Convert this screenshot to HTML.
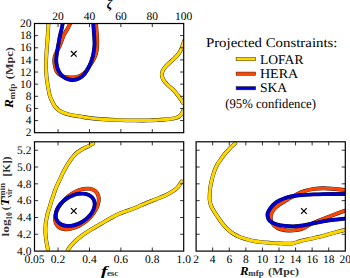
<!DOCTYPE html>
<html><head><meta charset="utf-8"><style>
html,body{margin:0;padding:0;background:#fff;}
body{width:350px;height:278px;overflow:hidden;}
svg{display:block;font-family:"Liberation Serif",serif;}
.gp text{text-rendering:geometricPrecision;}
</style></head><body>
<svg width="350" height="278" viewBox="0 0 350 278">
<rect width="350" height="278" fill="#fff"/>
<defs><clipPath id="cTL"><rect x="34.50" y="23.50" width="149.20" height="109.20"/></clipPath><clipPath id="cBL"><rect x="34.50" y="141.80" width="149.20" height="109.30"/></clipPath><clipPath id="cBR"><rect x="196.10" y="141.80" width="149.20" height="109.30"/></clipPath></defs>
<g clip-path="url(#cTL)"><path d="M48.60,22.00 C48.55,22.67 48.47,23.33 48.30,26.00 C48.13,28.67 47.87,34.00 47.60,38.00 C47.33,42.00 46.95,46.33 46.70,50.00 C46.45,53.67 46.20,56.67 46.10,60.00 C46.00,63.33 45.97,66.67 46.10,70.00 C46.23,73.33 46.52,76.83 46.90,80.00 C47.28,83.17 47.90,86.33 48.40,89.00 C48.90,91.67 49.27,93.92 49.90,96.00 C50.53,98.08 51.35,99.75 52.20,101.50 C53.05,103.25 53.87,105.03 55.00,106.50 C56.13,107.97 57.33,109.17 59.00,110.30 C60.67,111.43 62.77,112.47 65.00,113.30 C67.23,114.13 69.90,114.78 72.40,115.30 C74.90,115.82 77.18,115.95 80.00,116.40 C82.82,116.85 85.37,117.52 89.30,118.00 C93.23,118.48 98.48,118.95 103.60,119.30 C108.72,119.65 114.88,119.92 120.00,120.10 C125.12,120.28 129.53,120.35 134.30,120.40 C139.07,120.45 144.65,120.47 148.60,120.40 C152.55,120.33 155.27,120.15 158.00,120.00 C160.73,119.85 162.83,119.68 165.00,119.50 C167.17,119.32 169.13,119.18 171.00,118.90 C172.87,118.62 174.70,118.33 176.20,117.80 C177.70,117.27 179.00,116.53 180.00,115.70 C181.00,114.87 181.67,113.65 182.20,112.80 C182.73,111.95 183.03,110.97 183.20,110.60" fill="none" stroke="#1a1a1a" stroke-width="3.90" stroke-linecap="round" stroke-linejoin="round"/><path d="M48.60,22.00 C48.55,22.67 48.47,23.33 48.30,26.00 C48.13,28.67 47.87,34.00 47.60,38.00 C47.33,42.00 46.95,46.33 46.70,50.00 C46.45,53.67 46.20,56.67 46.10,60.00 C46.00,63.33 45.97,66.67 46.10,70.00 C46.23,73.33 46.52,76.83 46.90,80.00 C47.28,83.17 47.90,86.33 48.40,89.00 C48.90,91.67 49.27,93.92 49.90,96.00 C50.53,98.08 51.35,99.75 52.20,101.50 C53.05,103.25 53.87,105.03 55.00,106.50 C56.13,107.97 57.33,109.17 59.00,110.30 C60.67,111.43 62.77,112.47 65.00,113.30 C67.23,114.13 69.90,114.78 72.40,115.30 C74.90,115.82 77.18,115.95 80.00,116.40 C82.82,116.85 85.37,117.52 89.30,118.00 C93.23,118.48 98.48,118.95 103.60,119.30 C108.72,119.65 114.88,119.92 120.00,120.10 C125.12,120.28 129.53,120.35 134.30,120.40 C139.07,120.45 144.65,120.47 148.60,120.40 C152.55,120.33 155.27,120.15 158.00,120.00 C160.73,119.85 162.83,119.68 165.00,119.50 C167.17,119.32 169.13,119.18 171.00,118.90 C172.87,118.62 174.70,118.33 176.20,117.80 C177.70,117.27 179.00,116.53 180.00,115.70 C181.00,114.87 181.67,113.65 182.20,112.80 C182.73,111.95 183.03,110.97 183.20,110.60" fill="none" stroke="#ffd700" stroke-width="3.20" stroke-linecap="round" stroke-linejoin="round"/><path d="M184.30,40.60 C183.97,41.58 183.08,44.53 182.30,46.50 C181.52,48.47 180.78,50.53 179.60,52.40 C178.42,54.27 176.83,56.02 175.20,57.70 C173.57,59.38 171.47,60.95 169.80,62.50 C168.13,64.05 166.40,65.58 165.20,67.00 C164.00,68.42 163.15,69.58 162.60,71.00 C162.05,72.42 161.70,73.92 161.90,75.50 C162.10,77.08 162.75,78.85 163.80,80.50 C164.85,82.15 166.52,83.77 168.20,85.40 C169.88,87.03 172.33,88.70 173.90,90.30 C175.47,91.90 176.43,93.50 177.60,95.00 C178.77,96.50 180.03,98.00 180.90,99.30 C181.77,100.60 182.48,102.22 182.80,102.80" fill="none" stroke="#1a1a1a" stroke-width="3.90" stroke-linecap="round" stroke-linejoin="round"/><path d="M184.30,40.60 C183.97,41.58 183.08,44.53 182.30,46.50 C181.52,48.47 180.78,50.53 179.60,52.40 C178.42,54.27 176.83,56.02 175.20,57.70 C173.57,59.38 171.47,60.95 169.80,62.50 C168.13,64.05 166.40,65.58 165.20,67.00 C164.00,68.42 163.15,69.58 162.60,71.00 C162.05,72.42 161.70,73.92 161.90,75.50 C162.10,77.08 162.75,78.85 163.80,80.50 C164.85,82.15 166.52,83.77 168.20,85.40 C169.88,87.03 172.33,88.70 173.90,90.30 C175.47,91.90 176.43,93.50 177.60,95.00 C178.77,96.50 180.03,98.00 180.90,99.30 C181.77,100.60 182.48,102.22 182.80,102.80" fill="none" stroke="#ffd700" stroke-width="3.20" stroke-linecap="round" stroke-linejoin="round"/><path d="M71.50,20.00 C71.25,20.67 70.78,22.33 70.00,24.00 C69.22,25.67 67.83,28.17 66.80,30.00 C65.77,31.83 64.63,33.27 63.80,35.00 C62.97,36.73 62.50,38.57 61.80,40.40 C61.10,42.23 60.42,44.15 59.60,46.00 C58.78,47.85 57.70,49.75 56.90,51.50 C56.10,53.25 55.23,54.92 54.80,56.50 C54.37,58.08 54.28,59.42 54.30,61.00 C54.32,62.58 54.52,64.30 54.90,66.00 C55.28,67.70 55.75,69.72 56.60,71.20 C57.45,72.68 58.63,73.95 60.00,74.90 C61.37,75.85 63.22,76.47 64.80,76.90 C66.38,77.33 67.82,77.43 69.50,77.50 C71.18,77.57 73.05,77.62 74.90,77.30 C76.75,76.98 78.78,76.57 80.60,75.60 C82.42,74.63 84.32,73.10 85.80,71.50 C87.28,69.90 88.37,67.72 89.50,66.00 C90.63,64.28 91.65,62.87 92.60,61.20 C93.55,59.53 94.53,57.73 95.20,56.00 C95.87,54.27 96.28,52.57 96.60,50.80 C96.92,49.03 97.00,47.20 97.10,45.40 C97.20,43.60 97.23,41.73 97.20,40.00 C97.17,38.27 97.05,37.00 96.90,35.00 C96.75,33.00 96.43,29.83 96.30,28.00 C96.17,26.17 96.13,25.33 96.10,24.00 C96.07,22.67 96.10,20.67 96.10,20.00" fill="none" stroke="#1a1a1a" stroke-width="3.90" stroke-linecap="round" stroke-linejoin="round"/><path d="M71.50,20.00 C71.25,20.67 70.78,22.33 70.00,24.00 C69.22,25.67 67.83,28.17 66.80,30.00 C65.77,31.83 64.63,33.27 63.80,35.00 C62.97,36.73 62.50,38.57 61.80,40.40 C61.10,42.23 60.42,44.15 59.60,46.00 C58.78,47.85 57.70,49.75 56.90,51.50 C56.10,53.25 55.23,54.92 54.80,56.50 C54.37,58.08 54.28,59.42 54.30,61.00 C54.32,62.58 54.52,64.30 54.90,66.00 C55.28,67.70 55.75,69.72 56.60,71.20 C57.45,72.68 58.63,73.95 60.00,74.90 C61.37,75.85 63.22,76.47 64.80,76.90 C66.38,77.33 67.82,77.43 69.50,77.50 C71.18,77.57 73.05,77.62 74.90,77.30 C76.75,76.98 78.78,76.57 80.60,75.60 C82.42,74.63 84.32,73.10 85.80,71.50 C87.28,69.90 88.37,67.72 89.50,66.00 C90.63,64.28 91.65,62.87 92.60,61.20 C93.55,59.53 94.53,57.73 95.20,56.00 C95.87,54.27 96.28,52.57 96.60,50.80 C96.92,49.03 97.00,47.20 97.10,45.40 C97.20,43.60 97.23,41.73 97.20,40.00 C97.17,38.27 97.05,37.00 96.90,35.00 C96.75,33.00 96.43,29.83 96.30,28.00 C96.17,26.17 96.13,25.33 96.10,24.00 C96.07,22.67 96.10,20.67 96.10,20.00" fill="none" stroke="#ff4500" stroke-width="3.20" stroke-linecap="round" stroke-linejoin="round"/><path d="M63.10,20.00 C63.02,20.67 62.88,22.33 62.60,24.00 C62.32,25.67 61.83,28.08 61.40,30.00 C60.97,31.92 60.43,33.50 60.00,35.50 C59.57,37.50 59.18,39.92 58.80,42.00 C58.42,44.08 58.03,46.00 57.70,48.00 C57.37,50.00 57.05,52.00 56.80,54.00 C56.55,56.00 56.18,58.00 56.20,60.00 C56.22,62.00 56.45,64.08 56.90,66.00 C57.35,67.92 58.00,69.83 58.90,71.50 C59.80,73.17 60.82,74.72 62.30,76.00 C63.78,77.28 65.90,78.53 67.80,79.20 C69.70,79.87 71.77,80.15 73.70,80.00 C75.63,79.85 77.58,79.30 79.40,78.30 C81.22,77.30 83.07,75.80 84.60,74.00 C86.13,72.20 87.50,69.58 88.60,67.50 C89.70,65.42 90.48,63.42 91.20,61.50 C91.92,59.58 92.45,57.83 92.90,56.00 C93.35,54.17 93.63,52.33 93.90,50.50 C94.17,48.67 94.43,47.08 94.50,45.00 C94.57,42.92 94.43,40.50 94.30,38.00 C94.17,35.50 93.87,32.33 93.70,30.00 C93.53,27.67 93.37,25.67 93.30,24.00 C93.23,22.33 93.30,20.67 93.30,20.00" fill="none" stroke="#1a1a1a" stroke-width="3.90" stroke-linecap="round" stroke-linejoin="round"/><path d="M63.10,20.00 C63.02,20.67 62.88,22.33 62.60,24.00 C62.32,25.67 61.83,28.08 61.40,30.00 C60.97,31.92 60.43,33.50 60.00,35.50 C59.57,37.50 59.18,39.92 58.80,42.00 C58.42,44.08 58.03,46.00 57.70,48.00 C57.37,50.00 57.05,52.00 56.80,54.00 C56.55,56.00 56.18,58.00 56.20,60.00 C56.22,62.00 56.45,64.08 56.90,66.00 C57.35,67.92 58.00,69.83 58.90,71.50 C59.80,73.17 60.82,74.72 62.30,76.00 C63.78,77.28 65.90,78.53 67.80,79.20 C69.70,79.87 71.77,80.15 73.70,80.00 C75.63,79.85 77.58,79.30 79.40,78.30 C81.22,77.30 83.07,75.80 84.60,74.00 C86.13,72.20 87.50,69.58 88.60,67.50 C89.70,65.42 90.48,63.42 91.20,61.50 C91.92,59.58 92.45,57.83 92.90,56.00 C93.35,54.17 93.63,52.33 93.90,50.50 C94.17,48.67 94.43,47.08 94.50,45.00 C94.57,42.92 94.43,40.50 94.30,38.00 C94.17,35.50 93.87,32.33 93.70,30.00 C93.53,27.67 93.37,25.67 93.30,24.00 C93.23,22.33 93.30,20.67 93.30,20.00" fill="none" stroke="#0000cd" stroke-width="3.20" stroke-linecap="round" stroke-linejoin="round"/><path d="M70.91,50.98 L76.61,56.68 M70.91,56.68 L76.61,50.98" stroke="#000" stroke-width="1.25" fill="none"/></g>
<g clip-path="url(#cBL)"><path d="M93.20,143.60 C92.47,143.98 90.50,145.03 88.80,145.90 C87.10,146.77 84.92,147.72 83.00,148.80 C81.08,149.88 78.97,151.08 77.30,152.40 C75.63,153.72 74.32,155.15 73.00,156.70 C71.68,158.25 70.60,159.90 69.40,161.70 C68.20,163.50 66.93,165.53 65.80,167.50 C64.67,169.47 63.58,171.50 62.60,173.50 C61.62,175.50 60.80,177.58 59.90,179.50 C59.00,181.42 58.02,183.17 57.20,185.00 C56.38,186.83 55.70,188.58 55.00,190.50 C54.30,192.42 53.62,194.67 53.00,196.50 C52.38,198.33 51.83,199.83 51.30,201.50 C50.77,203.17 50.43,204.42 49.80,206.50 C49.17,208.58 48.17,211.25 47.50,214.00 C46.83,216.75 46.15,220.00 45.80,223.00 C45.45,226.00 45.32,229.00 45.40,232.00 C45.48,235.00 45.90,238.17 46.30,241.00 C46.70,243.83 47.45,247.00 47.80,249.00 C48.15,251.00 48.30,252.33 48.40,253.00" fill="none" stroke="#1a1a1a" stroke-width="3.90" stroke-linecap="round" stroke-linejoin="round"/><path d="M93.20,143.60 C92.47,143.98 90.50,145.03 88.80,145.90 C87.10,146.77 84.92,147.72 83.00,148.80 C81.08,149.88 78.97,151.08 77.30,152.40 C75.63,153.72 74.32,155.15 73.00,156.70 C71.68,158.25 70.60,159.90 69.40,161.70 C68.20,163.50 66.93,165.53 65.80,167.50 C64.67,169.47 63.58,171.50 62.60,173.50 C61.62,175.50 60.80,177.58 59.90,179.50 C59.00,181.42 58.02,183.17 57.20,185.00 C56.38,186.83 55.70,188.58 55.00,190.50 C54.30,192.42 53.62,194.67 53.00,196.50 C52.38,198.33 51.83,199.83 51.30,201.50 C50.77,203.17 50.43,204.42 49.80,206.50 C49.17,208.58 48.17,211.25 47.50,214.00 C46.83,216.75 46.15,220.00 45.80,223.00 C45.45,226.00 45.32,229.00 45.40,232.00 C45.48,235.00 45.90,238.17 46.30,241.00 C46.70,243.83 47.45,247.00 47.80,249.00 C48.15,251.00 48.30,252.33 48.40,253.00" fill="none" stroke="#ffd700" stroke-width="3.20" stroke-linecap="round" stroke-linejoin="round"/><path d="M67.40,252.00 C67.53,251.55 67.15,250.87 68.20,249.30 C69.25,247.73 71.63,244.72 73.70,242.60 C75.77,240.48 77.73,238.75 80.60,236.60 C83.47,234.45 87.47,231.85 90.90,229.70 C94.33,227.55 97.77,225.70 101.20,223.70 C104.63,221.70 108.50,219.35 111.50,217.70 C114.50,216.05 116.95,214.82 119.20,213.80 C121.45,212.78 122.37,212.57 125.00,211.60 C127.63,210.63 131.67,209.33 135.00,208.00 C138.33,206.67 141.67,205.00 145.00,203.60 C148.33,202.20 151.67,200.93 155.00,199.60 C158.33,198.27 162.00,197.00 165.00,195.60 C168.00,194.20 170.83,192.63 173.00,191.20 C175.17,189.77 176.57,188.62 178.00,187.00 C179.43,185.38 181.00,182.42 181.60,181.50" fill="none" stroke="#1a1a1a" stroke-width="3.90" stroke-linecap="round" stroke-linejoin="round"/><path d="M67.40,252.00 C67.53,251.55 67.15,250.87 68.20,249.30 C69.25,247.73 71.63,244.72 73.70,242.60 C75.77,240.48 77.73,238.75 80.60,236.60 C83.47,234.45 87.47,231.85 90.90,229.70 C94.33,227.55 97.77,225.70 101.20,223.70 C104.63,221.70 108.50,219.35 111.50,217.70 C114.50,216.05 116.95,214.82 119.20,213.80 C121.45,212.78 122.37,212.57 125.00,211.60 C127.63,210.63 131.67,209.33 135.00,208.00 C138.33,206.67 141.67,205.00 145.00,203.60 C148.33,202.20 151.67,200.93 155.00,199.60 C158.33,198.27 162.00,197.00 165.00,195.60 C168.00,194.20 170.83,192.63 173.00,191.20 C175.17,189.77 176.57,188.62 178.00,187.00 C179.43,185.38 181.00,182.42 181.60,181.50" fill="none" stroke="#ffd700" stroke-width="3.20" stroke-linecap="round" stroke-linejoin="round"/><path d="M96.41,192.19 C97.27,193.19 97.92,194.41 98.32,195.74 C98.71,197.08 98.86,198.61 98.76,200.20 C98.66,201.78 98.30,203.52 97.72,205.25 C97.13,206.97 96.28,208.80 95.26,210.55 C94.23,212.30 92.95,214.09 91.55,215.74 C90.14,217.40 88.52,219.03 86.84,220.47 C85.16,221.92 83.31,223.28 81.46,224.42 C79.62,225.56 77.66,226.55 75.77,227.31 C73.89,228.06 71.95,228.63 70.16,228.95 C68.37,229.27 66.59,229.36 65.01,229.23 C63.43,229.09 61.94,228.71 60.68,228.12 C59.41,227.53 58.30,226.70 57.45,225.71 C56.59,224.71 55.94,223.49 55.54,222.16 C55.15,220.82 55.00,219.29 55.10,217.70 C55.20,216.12 55.56,214.38 56.14,212.65 C56.73,210.93 57.58,209.10 58.60,207.35 C59.63,205.60 60.91,203.81 62.31,202.16 C63.72,200.50 65.34,198.87 67.02,197.43 C68.70,195.98 70.55,194.62 72.40,193.48 C74.24,192.34 76.20,191.35 78.09,190.59 C79.97,189.84 81.91,189.27 83.70,188.95 C85.49,188.63 87.27,188.54 88.85,188.67 C90.43,188.81 91.92,189.19 93.18,189.78 C94.45,190.37 95.56,191.20 96.41,192.19Z" fill="none" stroke="#1a1a1a" stroke-width="3.90" stroke-linecap="round" stroke-linejoin="round"/><path d="M96.41,192.19 C97.27,193.19 97.92,194.41 98.32,195.74 C98.71,197.08 98.86,198.61 98.76,200.20 C98.66,201.78 98.30,203.52 97.72,205.25 C97.13,206.97 96.28,208.80 95.26,210.55 C94.23,212.30 92.95,214.09 91.55,215.74 C90.14,217.40 88.52,219.03 86.84,220.47 C85.16,221.92 83.31,223.28 81.46,224.42 C79.62,225.56 77.66,226.55 75.77,227.31 C73.89,228.06 71.95,228.63 70.16,228.95 C68.37,229.27 66.59,229.36 65.01,229.23 C63.43,229.09 61.94,228.71 60.68,228.12 C59.41,227.53 58.30,226.70 57.45,225.71 C56.59,224.71 55.94,223.49 55.54,222.16 C55.15,220.82 55.00,219.29 55.10,217.70 C55.20,216.12 55.56,214.38 56.14,212.65 C56.73,210.93 57.58,209.10 58.60,207.35 C59.63,205.60 60.91,203.81 62.31,202.16 C63.72,200.50 65.34,198.87 67.02,197.43 C68.70,195.98 70.55,194.62 72.40,193.48 C74.24,192.34 76.20,191.35 78.09,190.59 C79.97,189.84 81.91,189.27 83.70,188.95 C85.49,188.63 87.27,188.54 88.85,188.67 C90.43,188.81 91.92,189.19 93.18,189.78 C94.45,190.37 95.56,191.20 96.41,192.19Z" fill="none" stroke="#ff4500" stroke-width="3.20" stroke-linecap="round" stroke-linejoin="round"/><path d="M93.29,198.98 C93.91,200.02 94.33,201.22 94.52,202.46 C94.72,203.70 94.68,205.08 94.44,206.44 C94.19,207.80 93.70,209.25 93.03,210.64 C92.36,212.04 91.46,213.46 90.41,214.79 C89.36,216.11 88.10,217.42 86.75,218.59 C85.40,219.76 83.86,220.86 82.30,221.79 C80.73,222.72 79.03,223.54 77.36,224.17 C75.69,224.79 73.93,225.28 72.27,225.56 C70.60,225.85 68.92,225.96 67.38,225.88 C65.83,225.80 64.33,225.53 63.01,225.10 C61.69,224.66 60.48,224.03 59.48,223.27 C58.47,222.51 57.62,221.56 57.01,220.52 C56.39,219.48 55.97,218.28 55.78,217.04 C55.58,215.80 55.62,214.42 55.86,213.06 C56.11,211.70 56.60,210.25 57.27,208.86 C57.94,207.46 58.84,206.04 59.89,204.71 C60.94,203.39 62.20,202.08 63.55,200.91 C64.90,199.74 66.44,198.64 68.00,197.71 C69.57,196.78 71.27,195.96 72.94,195.33 C74.61,194.71 76.37,194.22 78.03,193.94 C79.70,193.65 81.38,193.54 82.92,193.62 C84.47,193.70 85.97,193.97 87.29,194.40 C88.61,194.84 89.82,195.47 90.82,196.23 C91.83,196.99 92.68,197.94 93.29,198.98Z" fill="none" stroke="#1a1a1a" stroke-width="3.90" stroke-linecap="round" stroke-linejoin="round"/><path d="M93.29,198.98 C93.91,200.02 94.33,201.22 94.52,202.46 C94.72,203.70 94.68,205.08 94.44,206.44 C94.19,207.80 93.70,209.25 93.03,210.64 C92.36,212.04 91.46,213.46 90.41,214.79 C89.36,216.11 88.10,217.42 86.75,218.59 C85.40,219.76 83.86,220.86 82.30,221.79 C80.73,222.72 79.03,223.54 77.36,224.17 C75.69,224.79 73.93,225.28 72.27,225.56 C70.60,225.85 68.92,225.96 67.38,225.88 C65.83,225.80 64.33,225.53 63.01,225.10 C61.69,224.66 60.48,224.03 59.48,223.27 C58.47,222.51 57.62,221.56 57.01,220.52 C56.39,219.48 55.97,218.28 55.78,217.04 C55.58,215.80 55.62,214.42 55.86,213.06 C56.11,211.70 56.60,210.25 57.27,208.86 C57.94,207.46 58.84,206.04 59.89,204.71 C60.94,203.39 62.20,202.08 63.55,200.91 C64.90,199.74 66.44,198.64 68.00,197.71 C69.57,196.78 71.27,195.96 72.94,195.33 C74.61,194.71 76.37,194.22 78.03,193.94 C79.70,193.65 81.38,193.54 82.92,193.62 C84.47,193.70 85.97,193.97 87.29,194.40 C88.61,194.84 89.82,195.47 90.82,196.23 C91.83,196.99 92.68,197.94 93.29,198.98Z" fill="none" stroke="#0000cd" stroke-width="3.20" stroke-linecap="round" stroke-linejoin="round"/><path d="M70.91,208.15 L76.61,213.85 M70.91,213.85 L76.61,208.15" stroke="#000" stroke-width="1.25" fill="none"/></g>
<g clip-path="url(#cBR)"><path d="M235.20,143.40 C234.35,144.17 231.47,146.65 230.10,148.00 C228.73,149.35 228.03,150.33 227.00,151.50 C225.97,152.67 225.02,153.58 223.90,155.00 C222.78,156.42 221.35,158.50 220.30,160.00 C219.25,161.50 218.42,162.58 217.60,164.00 C216.78,165.42 216.10,166.83 215.40,168.50 C214.70,170.17 214.05,171.88 213.40,174.00 C212.75,176.12 212.03,178.87 211.50,181.20 C210.97,183.53 210.50,185.70 210.20,188.00 C209.90,190.30 209.78,193.00 209.70,195.00 C209.62,197.00 209.52,198.33 209.70,200.00 C209.88,201.67 210.22,203.33 210.80,205.00 C211.38,206.67 212.25,208.33 213.20,210.00 C214.15,211.67 215.40,213.33 216.50,215.00 C217.60,216.67 218.62,218.33 219.80,220.00 C220.98,221.67 222.17,223.33 223.60,225.00 C225.03,226.67 226.70,228.50 228.40,230.00 C230.10,231.50 231.82,232.80 233.80,234.00 C235.78,235.20 238.13,236.32 240.30,237.20 C242.47,238.08 244.68,238.68 246.80,239.30 C248.92,239.92 250.63,240.43 253.00,240.90 C255.37,241.37 258.28,241.78 261.00,242.10 C263.72,242.42 266.48,242.62 269.30,242.80 C272.12,242.98 275.07,243.07 277.90,243.20 C280.73,243.33 283.78,243.58 286.30,243.60 C288.82,243.62 290.72,243.70 293.00,243.30 C295.28,242.90 297.17,241.93 300.00,241.20 C302.83,240.47 306.67,239.65 310.00,238.90 C313.33,238.15 316.67,237.53 320.00,236.70 C323.33,235.87 326.23,234.93 330.00,233.90 C333.77,232.87 339.60,231.30 342.60,230.50 C345.60,229.70 347.10,229.33 348.00,229.10" fill="none" stroke="#1a1a1a" stroke-width="3.90" stroke-linecap="round" stroke-linejoin="round"/><path d="M235.20,143.40 C234.35,144.17 231.47,146.65 230.10,148.00 C228.73,149.35 228.03,150.33 227.00,151.50 C225.97,152.67 225.02,153.58 223.90,155.00 C222.78,156.42 221.35,158.50 220.30,160.00 C219.25,161.50 218.42,162.58 217.60,164.00 C216.78,165.42 216.10,166.83 215.40,168.50 C214.70,170.17 214.05,171.88 213.40,174.00 C212.75,176.12 212.03,178.87 211.50,181.20 C210.97,183.53 210.50,185.70 210.20,188.00 C209.90,190.30 209.78,193.00 209.70,195.00 C209.62,197.00 209.52,198.33 209.70,200.00 C209.88,201.67 210.22,203.33 210.80,205.00 C211.38,206.67 212.25,208.33 213.20,210.00 C214.15,211.67 215.40,213.33 216.50,215.00 C217.60,216.67 218.62,218.33 219.80,220.00 C220.98,221.67 222.17,223.33 223.60,225.00 C225.03,226.67 226.70,228.50 228.40,230.00 C230.10,231.50 231.82,232.80 233.80,234.00 C235.78,235.20 238.13,236.32 240.30,237.20 C242.47,238.08 244.68,238.68 246.80,239.30 C248.92,239.92 250.63,240.43 253.00,240.90 C255.37,241.37 258.28,241.78 261.00,242.10 C263.72,242.42 266.48,242.62 269.30,242.80 C272.12,242.98 275.07,243.07 277.90,243.20 C280.73,243.33 283.78,243.58 286.30,243.60 C288.82,243.62 290.72,243.70 293.00,243.30 C295.28,242.90 297.17,241.93 300.00,241.20 C302.83,240.47 306.67,239.65 310.00,238.90 C313.33,238.15 316.67,237.53 320.00,236.70 C323.33,235.87 326.23,234.93 330.00,233.90 C333.77,232.87 339.60,231.30 342.60,230.50 C345.60,229.70 347.10,229.33 348.00,229.10" fill="none" stroke="#ffd700" stroke-width="3.20" stroke-linecap="round" stroke-linejoin="round"/><path d="M352.00,190.60 C350.77,190.50 347.93,190.32 344.60,190.00 C341.27,189.68 335.60,188.98 332.00,188.70 C328.40,188.42 326.00,188.27 323.00,188.30 C320.00,188.33 317.00,188.47 314.00,188.90 C311.00,189.33 308.00,189.93 305.00,190.90 C302.00,191.87 298.98,193.22 296.00,194.70 C293.02,196.18 289.92,198.15 287.10,199.80 C284.28,201.45 281.35,202.95 279.10,204.60 C276.85,206.25 274.98,207.87 273.60,209.70 C272.22,211.53 271.10,213.45 270.80,215.60 C270.50,217.75 270.63,220.50 271.80,222.60 C272.97,224.70 275.60,226.93 277.80,228.20 C280.00,229.47 282.35,229.83 285.00,230.20 C287.65,230.57 290.87,230.63 293.70,230.40 C296.53,230.17 298.95,229.93 302.00,228.80 C305.05,227.67 308.83,225.10 312.00,223.60 C315.17,222.10 318.00,221.03 321.00,219.80 C324.00,218.57 326.10,217.70 330.00,216.20 C333.90,214.70 340.73,212.13 344.40,210.80 C348.07,209.47 350.73,208.63 352.00,208.20" fill="none" stroke="#1a1a1a" stroke-width="3.90" stroke-linecap="round" stroke-linejoin="round"/><path d="M352.00,190.60 C350.77,190.50 347.93,190.32 344.60,190.00 C341.27,189.68 335.60,188.98 332.00,188.70 C328.40,188.42 326.00,188.27 323.00,188.30 C320.00,188.33 317.00,188.47 314.00,188.90 C311.00,189.33 308.00,189.93 305.00,190.90 C302.00,191.87 298.98,193.22 296.00,194.70 C293.02,196.18 289.92,198.15 287.10,199.80 C284.28,201.45 281.35,202.95 279.10,204.60 C276.85,206.25 274.98,207.87 273.60,209.70 C272.22,211.53 271.10,213.45 270.80,215.60 C270.50,217.75 270.63,220.50 271.80,222.60 C272.97,224.70 275.60,226.93 277.80,228.20 C280.00,229.47 282.35,229.83 285.00,230.20 C287.65,230.57 290.87,230.63 293.70,230.40 C296.53,230.17 298.95,229.93 302.00,228.80 C305.05,227.67 308.83,225.10 312.00,223.60 C315.17,222.10 318.00,221.03 321.00,219.80 C324.00,218.57 326.10,217.70 330.00,216.20 C333.90,214.70 340.73,212.13 344.40,210.80 C348.07,209.47 350.73,208.63 352.00,208.20" fill="none" stroke="#ff4500" stroke-width="3.20" stroke-linecap="round" stroke-linejoin="round"/><path d="M352.00,193.90 C350.77,193.92 347.93,193.98 344.60,194.00 C341.27,194.02 335.60,193.98 332.00,194.00 C328.40,194.02 326.00,194.03 323.00,194.10 C320.00,194.17 317.00,194.27 314.00,194.40 C311.00,194.53 308.00,194.68 305.00,194.90 C302.00,195.12 298.98,195.28 296.00,195.70 C293.02,196.12 289.72,196.67 287.10,197.40 C284.48,198.13 282.38,199.08 280.30,200.10 C278.22,201.12 276.22,202.22 274.60,203.50 C272.98,204.78 271.72,206.30 270.60,207.80 C269.48,209.30 268.40,211.08 267.90,212.50 C267.40,213.92 267.32,214.92 267.60,216.30 C267.88,217.68 268.13,219.45 269.60,220.80 C271.07,222.15 273.83,223.55 276.40,224.40 C278.97,225.25 281.90,225.58 285.00,225.90 C288.10,226.22 292.00,226.38 295.00,226.30 C298.00,226.22 300.17,225.85 303.00,225.40 C305.83,224.95 309.00,224.20 312.00,223.60 C315.00,223.00 318.00,222.37 321.00,221.80 C324.00,221.23 326.10,220.73 330.00,220.20 C333.90,219.67 340.73,219.00 344.40,218.60 C348.07,218.20 350.73,217.93 352.00,217.80" fill="none" stroke="#1a1a1a" stroke-width="3.90" stroke-linecap="round" stroke-linejoin="round"/><path d="M352.00,193.90 C350.77,193.92 347.93,193.98 344.60,194.00 C341.27,194.02 335.60,193.98 332.00,194.00 C328.40,194.02 326.00,194.03 323.00,194.10 C320.00,194.17 317.00,194.27 314.00,194.40 C311.00,194.53 308.00,194.68 305.00,194.90 C302.00,195.12 298.98,195.28 296.00,195.70 C293.02,196.12 289.72,196.67 287.10,197.40 C284.48,198.13 282.38,199.08 280.30,200.10 C278.22,201.12 276.22,202.22 274.60,203.50 C272.98,204.78 271.72,206.30 270.60,207.80 C269.48,209.30 268.40,211.08 267.90,212.50 C267.40,213.92 267.32,214.92 267.60,216.30 C267.88,217.68 268.13,219.45 269.60,220.80 C271.07,222.15 273.83,223.55 276.40,224.40 C278.97,225.25 281.90,225.58 285.00,225.90 C288.10,226.22 292.00,226.38 295.00,226.30 C298.00,226.22 300.17,225.85 303.00,225.40 C305.83,224.95 309.00,224.20 312.00,223.60 C315.00,223.00 318.00,222.37 321.00,221.80 C324.00,221.23 326.10,220.73 330.00,220.20 C333.90,219.67 340.73,219.00 344.40,218.60 C348.07,218.20 350.73,217.93 352.00,217.80" fill="none" stroke="#0000cd" stroke-width="3.20" stroke-linecap="round" stroke-linejoin="round"/><path d="M301.01,208.15 L306.71,213.85 M301.01,213.85 L306.71,208.15" stroke="#000" stroke-width="1.25" fill="none"/></g>
<g stroke="#000" stroke-width="0.8"><line x1="58.06" y1="23.50" x2="58.06" y2="27.10"/><line x1="58.06" y1="132.70" x2="58.06" y2="129.10"/><line x1="89.47" y1="23.50" x2="89.47" y2="27.10"/><line x1="89.47" y1="132.70" x2="89.47" y2="129.10"/><line x1="120.88" y1="23.50" x2="120.88" y2="27.10"/><line x1="120.88" y1="132.70" x2="120.88" y2="129.10"/><line x1="152.29" y1="23.50" x2="152.29" y2="27.10"/><line x1="152.29" y1="132.70" x2="152.29" y2="129.10"/><line x1="34.50" y1="120.57" x2="38.10" y2="120.57"/><line x1="183.70" y1="120.57" x2="180.10" y2="120.57"/><line x1="34.50" y1="108.43" x2="38.10" y2="108.43"/><line x1="183.70" y1="108.43" x2="180.10" y2="108.43"/><line x1="34.50" y1="96.30" x2="38.10" y2="96.30"/><line x1="183.70" y1="96.30" x2="180.10" y2="96.30"/><line x1="34.50" y1="84.17" x2="38.10" y2="84.17"/><line x1="183.70" y1="84.17" x2="180.10" y2="84.17"/><line x1="34.50" y1="72.03" x2="38.10" y2="72.03"/><line x1="183.70" y1="72.03" x2="180.10" y2="72.03"/><line x1="34.50" y1="59.90" x2="38.10" y2="59.90"/><line x1="183.70" y1="59.90" x2="180.10" y2="59.90"/><line x1="34.50" y1="47.77" x2="38.10" y2="47.77"/><line x1="183.70" y1="47.77" x2="180.10" y2="47.77"/><line x1="34.50" y1="35.63" x2="38.10" y2="35.63"/><line x1="183.70" y1="35.63" x2="180.10" y2="35.63"/><line x1="58.06" y1="141.80" x2="58.06" y2="145.40"/><line x1="58.06" y1="251.10" x2="58.06" y2="247.50"/><line x1="89.47" y1="141.80" x2="89.47" y2="145.40"/><line x1="89.47" y1="251.10" x2="89.47" y2="247.50"/><line x1="120.88" y1="141.80" x2="120.88" y2="145.40"/><line x1="120.88" y1="251.10" x2="120.88" y2="247.50"/><line x1="152.29" y1="141.80" x2="152.29" y2="145.40"/><line x1="152.29" y1="251.10" x2="152.29" y2="247.50"/><line x1="34.50" y1="234.28" x2="38.10" y2="234.28"/><line x1="183.70" y1="234.28" x2="180.10" y2="234.28"/><line x1="34.50" y1="217.47" x2="38.10" y2="217.47"/><line x1="183.70" y1="217.47" x2="180.10" y2="217.47"/><line x1="34.50" y1="200.65" x2="38.10" y2="200.65"/><line x1="183.70" y1="200.65" x2="180.10" y2="200.65"/><line x1="34.50" y1="183.84" x2="38.10" y2="183.84"/><line x1="183.70" y1="183.84" x2="180.10" y2="183.84"/><line x1="34.50" y1="167.02" x2="38.10" y2="167.02"/><line x1="183.70" y1="167.02" x2="180.10" y2="167.02"/><line x1="34.50" y1="150.21" x2="38.10" y2="150.21"/><line x1="183.70" y1="150.21" x2="180.10" y2="150.21"/><line x1="212.68" y1="141.80" x2="212.68" y2="145.40"/><line x1="212.68" y1="251.10" x2="212.68" y2="247.50"/><line x1="229.26" y1="141.80" x2="229.26" y2="145.40"/><line x1="229.26" y1="251.10" x2="229.26" y2="247.50"/><line x1="245.83" y1="141.80" x2="245.83" y2="145.40"/><line x1="245.83" y1="251.10" x2="245.83" y2="247.50"/><line x1="262.41" y1="141.80" x2="262.41" y2="145.40"/><line x1="262.41" y1="251.10" x2="262.41" y2="247.50"/><line x1="278.99" y1="141.80" x2="278.99" y2="145.40"/><line x1="278.99" y1="251.10" x2="278.99" y2="247.50"/><line x1="295.57" y1="141.80" x2="295.57" y2="145.40"/><line x1="295.57" y1="251.10" x2="295.57" y2="247.50"/><line x1="312.14" y1="141.80" x2="312.14" y2="145.40"/><line x1="312.14" y1="251.10" x2="312.14" y2="247.50"/><line x1="328.72" y1="141.80" x2="328.72" y2="145.40"/><line x1="328.72" y1="251.10" x2="328.72" y2="247.50"/><line x1="196.10" y1="234.28" x2="199.70" y2="234.28"/><line x1="345.30" y1="234.28" x2="341.70" y2="234.28"/><line x1="196.10" y1="217.47" x2="199.70" y2="217.47"/><line x1="345.30" y1="217.47" x2="341.70" y2="217.47"/><line x1="196.10" y1="200.65" x2="199.70" y2="200.65"/><line x1="345.30" y1="200.65" x2="341.70" y2="200.65"/><line x1="196.10" y1="183.84" x2="199.70" y2="183.84"/><line x1="345.30" y1="183.84" x2="341.70" y2="183.84"/><line x1="196.10" y1="167.02" x2="199.70" y2="167.02"/><line x1="345.30" y1="167.02" x2="341.70" y2="167.02"/><line x1="196.10" y1="150.21" x2="199.70" y2="150.21"/><line x1="345.30" y1="150.21" x2="341.70" y2="150.21"/></g>
<rect x="34.50" y="23.50" width="149.20" height="109.20" fill="none" stroke="#000" stroke-width="1.2"/><rect x="34.50" y="141.80" width="149.20" height="109.30" fill="none" stroke="#000" stroke-width="1.2"/><rect x="196.10" y="141.80" width="149.20" height="109.30" fill="none" stroke="#000" stroke-width="1.2"/>
<g class="gp" fill="#000"><text x="58.06" y="20.00" text-anchor="middle" font-size="11.50">20</text>
<text x="89.47" y="20.00" text-anchor="middle" font-size="11.50">40</text>
<text x="120.88" y="20.00" text-anchor="middle" font-size="11.50">60</text>
<text x="152.29" y="20.00" text-anchor="middle" font-size="11.50">80</text>
<text x="183.70" y="20.00" text-anchor="middle" font-size="11.50">100</text>
<text x="31.40" y="136.40" text-anchor="end" font-size="11.50">2</text>
<text x="31.40" y="124.27" text-anchor="end" font-size="11.50">4</text>
<text x="31.40" y="112.13" text-anchor="end" font-size="11.50">6</text>
<text x="31.40" y="100.00" text-anchor="end" font-size="11.50">8</text>
<text x="31.40" y="87.87" text-anchor="end" font-size="11.50">10</text>
<text x="31.40" y="75.73" text-anchor="end" font-size="11.50">12</text>
<text x="31.40" y="63.60" text-anchor="end" font-size="11.50">14</text>
<text x="31.40" y="51.47" text-anchor="end" font-size="11.50">16</text>
<text x="31.40" y="39.33" text-anchor="end" font-size="11.50">18</text>
<text x="31.40" y="27.20" text-anchor="end" font-size="11.50">20</text>
<text x="31.40" y="254.80" text-anchor="end" font-size="11.50">4.0</text>
<text x="31.40" y="237.98" text-anchor="end" font-size="11.50">4.2</text>
<text x="31.40" y="221.17" text-anchor="end" font-size="11.50">4.4</text>
<text x="31.40" y="204.35" text-anchor="end" font-size="11.50">4.6</text>
<text x="31.40" y="187.54" text-anchor="end" font-size="11.50">4.8</text>
<text x="31.40" y="170.72" text-anchor="end" font-size="11.50">5.0</text>
<text x="31.40" y="153.91" text-anchor="end" font-size="11.50">5.2</text>
<text x="34.50" y="262.60" text-anchor="middle" font-size="11.50">0.05</text>
<text x="58.06" y="262.60" text-anchor="middle" font-size="11.50">0.2</text>
<text x="89.47" y="262.60" text-anchor="middle" font-size="11.50">0.4</text>
<text x="120.88" y="262.60" text-anchor="middle" font-size="11.50">0.6</text>
<text x="152.29" y="262.60" text-anchor="middle" font-size="11.50">0.8</text>
<text x="183.70" y="262.60" text-anchor="middle" font-size="11.50">1.0</text>
<text x="196.10" y="262.60" text-anchor="middle" font-size="11.50">2</text>
<text x="212.68" y="262.60" text-anchor="middle" font-size="11.50">4</text>
<text x="229.26" y="262.60" text-anchor="middle" font-size="11.50">6</text>
<text x="245.83" y="262.60" text-anchor="middle" font-size="11.50">8</text>
<text x="262.41" y="262.60" text-anchor="middle" font-size="11.50">10</text>
<text x="278.99" y="262.60" text-anchor="middle" font-size="11.50">12</text>
<text x="295.57" y="262.60" text-anchor="middle" font-size="11.50">14</text>
<text x="312.14" y="262.60" text-anchor="middle" font-size="11.50">16</text>
<text x="328.72" y="262.60" text-anchor="middle" font-size="11.50">18</text>
<text x="345.30" y="262.60" text-anchor="middle" font-size="11.50">20</text></g>
<g fill="#000"><text x="109.6" y="8.2" text-anchor="middle" font-size="12.5" font-weight="bold" font-style="italic">ζ</text>
<text x="100.9" y="274.6" font-size="12.5" font-weight="bold" font-style="italic" textLength="6.6" lengthAdjust="spacingAndGlyphs">f</text>
<text x="106.9" y="276.3" font-size="9" font-weight="bold" fill="#333" textLength="11.2" lengthAdjust="spacingAndGlyphs">esc</text>
<g transform="translate(239.40,274.70)"><text x="0.6" y="0" font-size="11.5" font-weight="bold" font-style="italic" textLength="8.6" lengthAdjust="spacingAndGlyphs">R</text><text x="8.9" y="1.7" font-size="8.8" font-weight="bold" fill="#333" textLength="15.3" lengthAdjust="spacingAndGlyphs">mfp</text><text x="28.6" y="0" font-size="11" font-weight="bold" fill="#333" textLength="31" lengthAdjust="spacingAndGlyphs">(Mpc)</text></g>
<g transform="translate(13.00,108.60) rotate(-90) scale(1.030)"><text x="0.6" y="0" font-size="11.5" font-weight="bold" font-style="italic" textLength="8.6" lengthAdjust="spacingAndGlyphs">R</text><text x="8.9" y="1.7" font-size="8.8" font-weight="bold" fill="#333" textLength="15.3" lengthAdjust="spacingAndGlyphs">mfp</text><text x="28.6" y="0" font-size="11" font-weight="bold" fill="#333" textLength="31" lengthAdjust="spacingAndGlyphs">(Mpc)</text></g>
<g transform="translate(9.1,236.4) rotate(-90)"><text x="0" y="0" font-size="11" font-weight="bold" fill="#333" textLength="17" lengthAdjust="spacingAndGlyphs">log</text><text x="16.6" y="2.8" font-size="7.6" font-weight="bold" fill="#333" textLength="7.6" lengthAdjust="spacingAndGlyphs">10</text><text x="26.2" y="0" font-size="11" font-weight="bold" fill="#333">(</text><text x="30.6" y="0" font-size="11.5" font-weight="bold" font-style="italic" textLength="8" lengthAdjust="spacingAndGlyphs">T</text><text x="38.4" y="-3.8" font-size="8.5" font-weight="bold" fill="#333" textLength="15" lengthAdjust="spacingAndGlyphs">min</text><text x="38.6" y="2.7" font-size="8.5" font-weight="bold" fill="#333" textLength="9.2" lengthAdjust="spacingAndGlyphs">vir</text><text x="59.8" y="0.8" font-size="11" font-weight="bold" fill="#333" textLength="20" lengthAdjust="spacingAndGlyphs">[K])</text></g></g>
<g class="gp" fill="#000"><text x="205.9" y="47.1" font-size="13.2" textLength="131.6" lengthAdjust="spacingAndGlyphs">Projected Constraints:</text>
<rect x="236.1" y="57.50" width="19.6" height="3.3" fill="#ffd700" stroke="#222" stroke-width="0.5"/>
<text x="259.9" y="64.10" font-size="13.2" textLength="43.6" lengthAdjust="spacingAndGlyphs">LOFAR</text>
<rect x="236.1" y="72.05" width="19.6" height="3.3" fill="#ff4500" stroke="#222" stroke-width="0.5"/>
<text x="259.9" y="78.10" font-size="13.2" textLength="38.4" lengthAdjust="spacingAndGlyphs">HERA</text>
<rect x="236.1" y="86.55" width="19.6" height="3.3" fill="#0000cd" stroke="#222" stroke-width="0.5"/>
<text x="259.9" y="92.10" font-size="13.2" textLength="27.2" lengthAdjust="spacingAndGlyphs">SKA</text>
<text x="225.3" y="108.1" font-size="13.2" textLength="90.6" lengthAdjust="spacingAndGlyphs">(95% confidence)</text></g>
</svg>
</body></html>
